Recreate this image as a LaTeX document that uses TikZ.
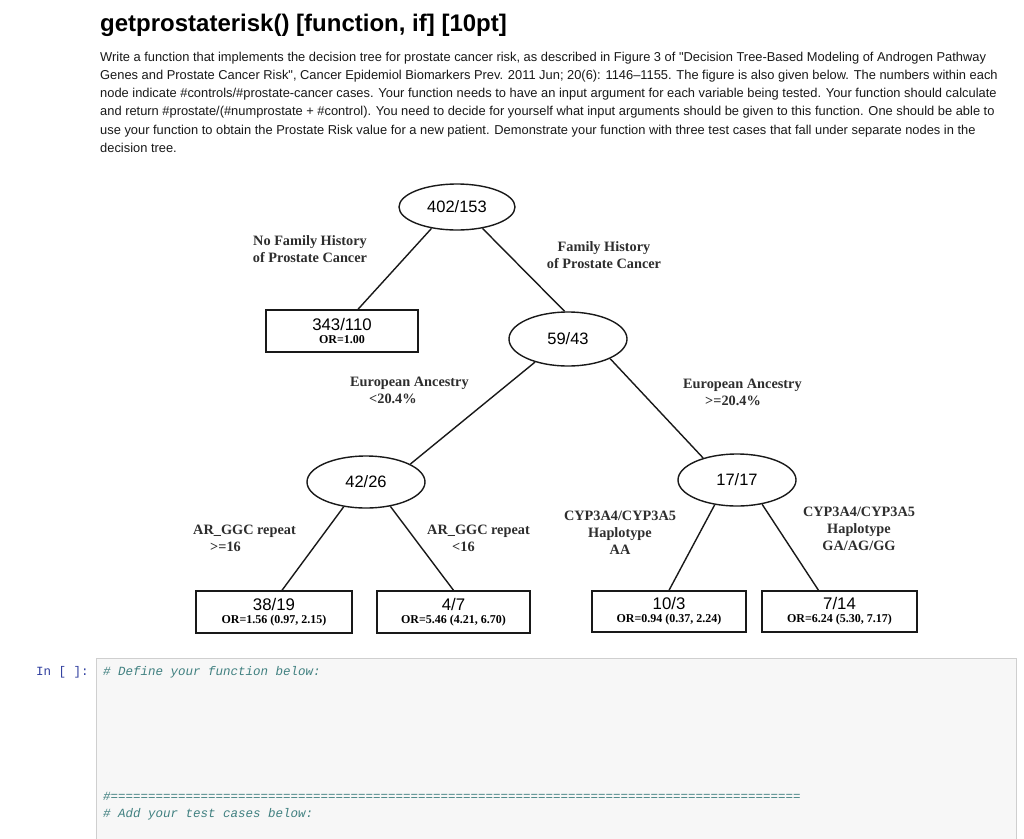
\documentclass[tikz,border=0pt]{standalone}
\usepackage{fontspec}
\setmainfont{Liberation Sans}
\newfontfamily\tnr{Liberation Serif}
\newfontfamily\cmono{Liberation Mono}
\usetikzlibrary{shapes.geometric}
\definecolor{lblgray}{HTML}{2E2E2E}
\definecolor{promptblue}{HTML}{303F9F}
\definecolor{cmtteal}{HTML}{408080}
\definecolor{cellbg}{HTML}{F7F7F7}
\definecolor{cellborder}{HTML}{CFCFCF}
\begin{document}
\begin{tikzpicture}[x=1pt,y=-1pt,
  ell/.style={ellipse, draw=black!90, line width=1.4pt, minimum width=118pt, minimum height=52pt, inner sep=0pt, font=\fontsize{16.5}{18}\selectfont},
  leaf/.style={draw=black!90, line width=1.4pt, inner sep=0pt, align=center},
  lbl/.style={font=\tnr\bfseries\fontsize{14.3}{17}\selectfont, text=lblgray, inner sep=0pt},
  conn/.style={line width=1.4pt, draw=black!90},
  para/.style={anchor=base west, inner sep=0pt, font=\fontsize{12.88}{16}\selectfont, text=black!90},
  codetxt/.style={anchor=base west, inner sep=0pt, font=\cmono\itshape\fontsize{12.5}{15}\selectfont, text=cmtteal}
]
\useasboundingbox (0,0) rectangle (1024,838);
\fill[white] (0,0) rectangle (1024,838);

% title and text
\node[anchor=base west, inner sep=0pt, font=\bfseries\fontsize{24}{28}\selectfont] (title) at (100,31) {getprostaterisk() [function, if] [10pt]};
\node[para] (p1) at (100,61) {Write a function that implements the decision tree for prostate cancer risk, as described in Figure 3 of \textquotedbl Decision Tree-Based Modeling of Androgen Pathway};
\node[para] (p2) at (100,79.3) {Genes and Prostate Cancer Risk\textquotedbl, Cancer Epidemiol Biomarkers Prev. 2011 Jun; 20(6): 1146\textendash1155. The figure is also given below. The numbers within each};
\node[para] (p3) at (100,97.6) {node indicate \#controls/\#prostate-cancer cases. Your function needs to have an input argument for each variable being tested. Your function should calculate};
\node[para] (p4) at (100,115.9) {and return \#prostate/(\#numprostate + \#control). You need to decide for yourself what input arguments should be given to this function. One should be able to};
\node[para] (p5) at (100,134.2) {use your function to obtain the Prostate Risk value for a new patient. Demonstrate your function with three test cases that fall under separate nodes in the};
\node[para] (p6) at (100,152.5) {decision tree.};

% tree nodes
\node[ell, minimum width=116pt, minimum height=46pt] (root) at (457,207) {402/153};
\node[leaf, minimum width=152pt, minimum height=42pt] (l1) at (342,331)
  {{\fontsize{16.8}{17}\selectfont 343/110}\\[1pt]{\tnr\bfseries\fontsize{12}{13}\selectfont OR=1.00}};
\node[ell, minimum height=54pt] (n2) at (568,339) {59/43};
\node[ell] (n3) at (366,482) {42/26};
\node[ell] (n4) at (737,480) {17/17};
\node[leaf, minimum width=156pt, minimum height=42pt] (l2) at (274,612)
  {{\fontsize{16.8}{17}\selectfont 38/19}\\[1pt]{\tnr\bfseries\fontsize{12}{13}\selectfont OR=1.56 (0.97, 2.15)}};
\node[leaf, minimum width=153pt, minimum height=42pt] (l3) at (453.5,612)
  {{\fontsize{16.8}{17}\selectfont 4/7}\\[1pt]{\tnr\bfseries\fontsize{12}{13}\selectfont OR=5.46 (4.21, 6.70)}};
\node[leaf, minimum width=154pt, minimum height=41pt] (l4) at (669,611.5)
  {{\fontsize{16.8}{17}\selectfont 10/3}\\[1pt]{\tnr\bfseries\fontsize{12}{13}\selectfont OR=0.94 (0.37, 2.24)}};
\node[leaf, minimum width=155pt, minimum height=41pt] (l5) at (839.5,611.5)
  {{\fontsize{16.8}{17}\selectfont 7/14}\\[1pt]{\tnr\bfseries\fontsize{12}{13}\selectfont OR=6.24 (5.30, 7.17)}};

% connectors
\draw[conn] (root.220) -- ([xshift=16pt]l1.north);
\draw[conn] (root.320) -- (n2.97);
\draw[conn] (n2.215) -- (n3.22);
\draw[conn] (n2.335) -- (n4.147);
\draw[conn] (n3.228) -- ([xshift=8pt]l2.north);
\draw[conn] (n3.315) -- (l3.north);
\draw[conn] (n4.228) -- (l4.north);
\draw[conn] (n4.316) -- ([xshift=-21pt]l5.north);

% edge labels
\node[lbl, align=center] (e1) at (310,249) {No Family History\\of Prostate Cancer};
\node[lbl, align=center] (e2) at (604,255) {Family History\\of Prostate Cancer};
\node[lbl, align=left, anchor=west] (e3) at (350,390.5) {European Ancestry\\\hspace*{19pt}<20.4\%};
\node[lbl, align=left, anchor=west] (e4) at (683,392.5) {European Ancestry\\\hspace*{22pt}>=20.4\%};
\node[lbl, align=left, anchor=west] (e5) at (193,538.5) {AR\_GGC repeat\\\hspace*{17pt}>=16};
\node[lbl, align=left, anchor=west] (e6) at (427,538.5) {AR\_GGC repeat\\\hspace*{25pt}<16};
\node[lbl, align=center] (e7) at (620,533) {CYP3A4/CYP3A5\\Haplotype\\AA};
\node[lbl, align=center] (e8) at (859,529) {CYP3A4/CYP3A5\\Haplotype\\GA/AG/GG};

% code cell
\node[draw=cellborder, fill=cellbg, line width=0.8pt, minimum width=920pt, minimum height=186pt, anchor=north west, inner sep=0pt] (cell) at (96,658) {};
\node[anchor=base west, inner sep=0pt, font=\cmono\fontsize{12.5}{15}\selectfont, text=promptblue] (prompt) at (36,675) {In [ ]:};
\node[codetxt] (c1) at (103,675) {\# Define your function below:};
\node[codetxt] (c2) at (103,800) {\#============================================================================================};
\node[codetxt] (c3) at (103,817) {\# Add your test cases below:};
\end{tikzpicture}
\end{document}
